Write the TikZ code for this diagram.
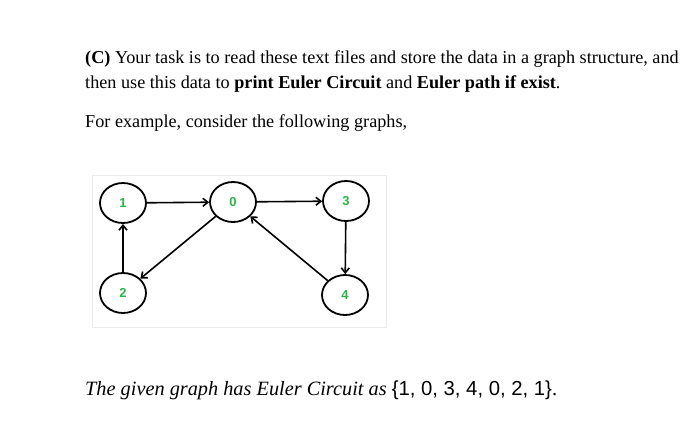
\documentclass[tikz,border=0pt]{standalone}
\usepackage{fontspec}
\setmainfont{Liberation Serif}
\newfontfamily\sansf{Liberation Sans}
\usetikzlibrary{shapes.geometric,arrows.meta}
\begin{document}
\begin{tikzpicture}[x=1pt,y=-1pt,
  txt/.style={anchor=base west,inner sep=0pt,font=\fontsize{18.2}{20}\selectfont},
  vert/.style={ellipse,draw,line width=1.8pt,minimum width=46pt,minimum height=40pt,inner sep=0pt,font=\sansf\bfseries\fontsize{13}{14}\selectfont,text={rgb,255:red,40;green,180;blue,70}},
  edge/.style={line width=1.6pt,-{Straight Barb[length=5pt,width=8pt]}}]
\useasboundingbox (0,0) rectangle (685,437);
\node[txt] (l1) at (85,63) {\textbf{(C)} Your task is to read these text files and store the data in a graph structure, and};
\node[txt] (l2) at (85,88) {then use this data to \textbf{print Euler Circuit} and \textbf{Euler path if exist}.};
\node[txt] (l3) at (85,127) {For example, consider the following graphs,};
\node[draw=black!8,line width=0.8pt,minimum width=294pt,minimum height=152pt,inner sep=0pt] (frame) at (239,251) {};
\node[vert] (v1) at (123,203) {1};
\node[vert] (v0) at (233,202) {0};
\node[vert] (v3) at (346,201) {3};
\node[vert] (v2) at (123,293) {2};
\node[vert] (v4) at (345,295) {4};
\draw[edge] (v1) -- (v0);
\draw[edge] (v0) -- (v3);
\draw[edge] (v3) -- (v4);
\draw[edge] (v4) -- (v0);
\draw[edge] (v0) -- (v2);
\draw[edge] (v2) -- (v1);
\node[txt,font=\fontsize{20.3}{22}\selectfont] (cap) at (85,395) {\textit{The given graph has Euler Circuit as} {\sansf\{1, 0, 3, 4, 0, 2, 1\}}.};
\end{tikzpicture}
\end{document}
